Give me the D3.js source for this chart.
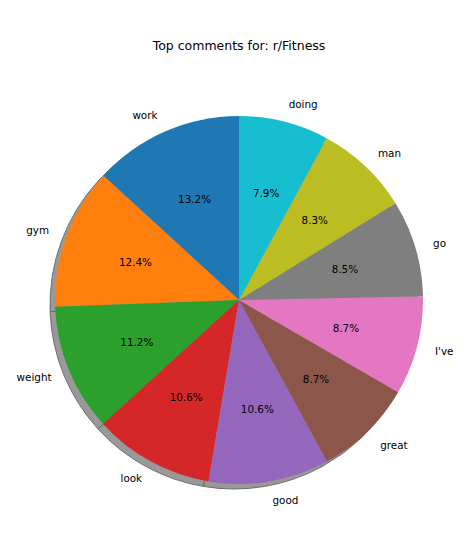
<!DOCTYPE html>
<html>
<head>
<meta charset="utf-8">
<script src="https://cdn.jsdelivr.net/npm/d3@7"></script>
<style>
  body { margin: 0; background: #fff; }
  text { font-family: "DejaVu Sans", sans-serif; fill: #000; }
</style>
</head>
<body>
<svg id="chart" width="474" height="538"></svg>
<script>
const title = "Top comments for: r/Fitness";
const words = ["work", "gym", "weight", "look", "good", "great", "I've", "go", "man", "doing"];
const shares = [13.2, 12.4, 11.2, 10.6, 10.6, 8.7, 8.7, 8.5, 8.3, 7.9];
const colors = ["#1f77b4", "#ff7f0e", "#2ca02c", "#d62728", "#9467bd",
                "#8c564b", "#e377c2", "#7f7f7f", "#bcbd22", "#17becf"];

const width = 474, height = 538;
const cx = 239, cy = 300, radius = 184;

const svg = d3.select('#chart');

svg.append('text')
    .attr('x', cx)
    .attr('y', 45)
    .attr('text-anchor', 'middle')
    .attr('dominant-baseline', 'central')
    .style('font-size', '12.5px')
    .text(title);

const data = words.map((w, i) => ({ word: w, value: shares[i], color: colors[i] }));

// counterclockwise from 12 o'clock, like matplotlib startangle=90
const pie = d3.pie()
    .sort(null)
    .value(d => d.value)
    .startAngle(0)
    .endAngle(-2 * Math.PI);

const arcs = pie(data);
const arc = d3.arc().innerRadius(0).outerRadius(radius);

// shadow
svg.append('g')
    .attr('class', 'shadow-layer')
    .attr('transform', `translate(${cx - 5},${cy + 5})`)
    .selectAll('path')
    .data(arcs)
    .enter()
    .append('path')
    .attr('d', arc)
    .style('fill', '#999')
    .style('stroke', '#6f6f6f')
    .style('stroke-width', 1);

const pieLayer = svg.append('g')
    .attr('class', 'pie-layer')
    .attr('transform', `translate(${cx},${cy})`);

pieLayer.selectAll('.wedge')
    .data(arcs)
    .enter()
    .append('path')
    .attr('class', 'wedge')
    .attr('d', arc)
    .style('fill', d => d.data.color);

const midAngle = d => (d.startAngle + d.endAngle) / 2;

// outer labels at 1.1 r
pieLayer.selectAll('.label')
    .data(arcs)
    .enter()
    .append('text')
    .attr('class', 'label')
    .attr('x', d => 1.1 * radius * Math.sin(midAngle(d)))
    .attr('y', d => -1.1 * radius * Math.cos(midAngle(d)))
    .attr('text-anchor', d => Math.sin(midAngle(d)) > 0 ? 'start' : 'end')
    .attr('dominant-baseline', 'central')
    .style('font-size', '10.4px')
    .text(d => d.data.word);

// percentages at 0.6 r
pieLayer.selectAll('.pct')
    .data(arcs)
    .enter()
    .append('text')
    .attr('class', 'pct')
    .attr('x', d => 0.6 * radius * Math.sin(midAngle(d)))
    .attr('y', d => -0.6 * radius * Math.cos(midAngle(d)))
    .attr('text-anchor', 'middle')
    .attr('dominant-baseline', 'central')
    .style('font-size', '10.4px')
    .text(d => d3.format('.1f')(d.data.value) + '%');
</script>
</body>
</html>
